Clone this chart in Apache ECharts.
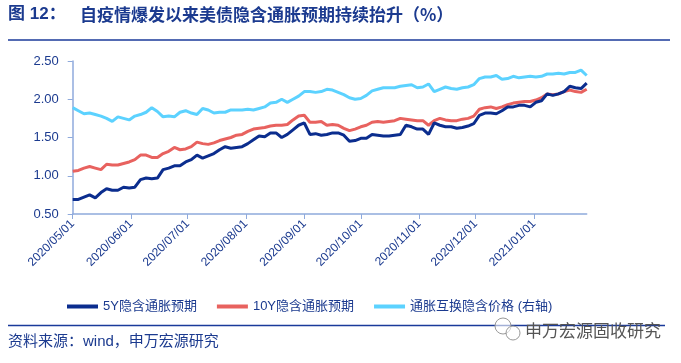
<!DOCTYPE html>
<html>
<head>
<meta charset="utf-8">
<script src="https://cdn.jsdelivr.net/npm/echarts@6/dist/echarts.min.js"></script>
<style>
html,body{margin:0;padding:0;background:#fff;}
#chart{width:681px;height:363px;}
</style>
</head>
<body>
<div id="chart"></div>
<script>
// Dates (every 3 calendar days)
var dates = [
 '2020-05-01','2020-05-04','2020-05-07','2020-05-10','2020-05-13','2020-05-16','2020-05-19','2020-05-22','2020-05-25','2020-05-28','2020-05-31',
 '2020-06-03','2020-06-06','2020-06-09','2020-06-12','2020-06-15','2020-06-18','2020-06-21','2020-06-24','2020-06-27','2020-06-30',
 '2020-07-03','2020-07-06','2020-07-09','2020-07-12','2020-07-15','2020-07-18','2020-07-21','2020-07-24','2020-07-27','2020-07-30',
 '2020-08-02','2020-08-05','2020-08-08','2020-08-11','2020-08-14','2020-08-17','2020-08-20','2020-08-23','2020-08-26','2020-08-29',
 '2020-09-01','2020-09-04','2020-09-07','2020-09-10','2020-09-13','2020-09-16','2020-09-19','2020-09-22','2020-09-25','2020-09-28',
 '2020-10-01','2020-10-04','2020-10-07','2020-10-10','2020-10-13','2020-10-16','2020-10-19','2020-10-22','2020-10-25','2020-10-28','2020-10-31',
 '2020-11-03','2020-11-06','2020-11-09','2020-11-12','2020-11-15','2020-11-18','2020-11-21','2020-11-24','2020-11-27','2020-11-30',
 '2020-12-03','2020-12-06','2020-12-09','2020-12-12','2020-12-15','2020-12-18','2020-12-21','2020-12-24','2020-12-27','2020-12-30',
 '2021-01-02','2021-01-05','2021-01-08','2021-01-11','2021-01-14','2021-01-17','2021-01-20','2021-01-23','2021-01-26','2021-01-29'
];
var be5y = [
 0.69,0.69,0.72,0.75,0.71,0.78,0.83,0.81,0.81,0.85,0.84,
 0.85,0.95,0.97,0.96,0.97,1.08,1.10,1.13,1.13,1.18,
 1.21,1.27,1.23,1.26,1.29,1.34,1.38,1.36,1.37,1.38,
 1.42,1.47,1.52,1.51,1.56,1.56,1.50,1.54,1.60,1.66,
 1.69,1.54,1.55,1.53,1.54,1.56,1.56,1.53,1.45,1.46,
 1.49,1.49,1.54,1.53,1.52,1.52,1.53,1.54,1.66,1.64,1.61,
 1.61,1.54,1.69,1.66,1.64,1.64,1.62,1.63,1.65,1.68,
 1.79,1.82,1.82,1.81,1.85,1.90,1.90,1.92,1.92,1.90,
 1.96,1.98,2.07,2.05,2.07,2.10,2.17,2.15,2.14,2.21
];
var be10y = [
 1.06,1.07,1.10,1.12,1.10,1.08,1.15,1.14,1.14,1.16,1.18,
 1.21,1.27,1.27,1.24,1.24,1.29,1.32,1.37,1.34,1.35,
 1.38,1.44,1.42,1.41,1.43,1.46,1.48,1.50,1.53,1.54,
 1.58,1.61,1.62,1.63,1.65,1.66,1.66,1.67,1.73,1.78,
 1.79,1.70,1.70,1.71,1.66,1.67,1.66,1.62,1.59,1.61,
 1.64,1.66,1.70,1.71,1.70,1.71,1.72,1.75,1.74,1.73,1.72,
 1.72,1.66,1.72,1.75,1.73,1.72,1.72,1.74,1.75,1.78,
 1.87,1.89,1.90,1.88,1.90,1.93,1.95,1.96,1.97,1.97,
 1.99,2.02,2.07,2.06,2.07,2.10,2.12,2.10,2.09,2.13
];
var swap = [
 1.89,1.85,1.81,1.82,1.80,1.78,1.75,1.71,1.77,1.75,1.73,
 1.78,1.80,1.83,1.89,1.84,1.77,1.78,1.77,1.83,1.85,
 1.82,1.80,1.88,1.86,1.82,1.83,1.83,1.86,1.86,1.86,
 1.87,1.86,1.88,1.90,1.95,1.96,2.00,1.96,2.00,2.04,
 2.10,2.10,2.09,2.10,2.13,2.12,2.09,2.06,2.02,2.00,
 2.01,2.05,2.11,2.13,2.15,2.15,2.15,2.17,2.18,2.19,2.15,
 2.16,2.20,2.10,2.13,2.16,2.14,2.13,2.15,2.16,2.19,
 2.27,2.29,2.29,2.31,2.26,2.27,2.30,2.28,2.29,2.30,
 2.29,2.30,2.33,2.33,2.34,2.33,2.35,2.35,2.38,2.31
];
var seriesNames = ['5Y隐含通胀预期','10Y隐含通胀预期','通胀互换隐含价格 (右轴)'];
var seriesColors = ['#0B2D8E','#E8625F','#5CD2FF'];
var yTicks = [0.5, 2.5, 0.5]; // min, max, interval

function pair(vals){ return dates.map(function(d,i){ return [d, vals[i]]; }); }

var navy = '#1B3A8F';
var axisColor = '#8FAADC';
var chart = echarts.init(document.getElementById('chart'), null, {renderer:'canvas'});
function fmtDate(v){
  var d = new Date(v);
  var m = d.getMonth()+1, day = d.getDate();
  return d.getFullYear()+'/'+(m<10?'0':'')+m+'/'+(day<10?'0':'')+day;
}
var option = {
  animation:false,
  backgroundColor:'#fff',
  grid:{left:72.7, right:94.3, top:61, bottom:149},
  legend:{
    left:62, top:295, itemWidth:31, itemHeight:4, itemGap:20, icon:'rect',
    textStyle:{color:navy, fontSize:13, fontFamily:'Liberation Sans, Noto Sans CJK SC'},
    data:seriesNames
  },
  xAxis:{
    type:'time', min:dates[0], max:dates[dates.length-1], splitNumber:9,
    axisLine:{lineStyle:{color:axisColor, width:1.5}},
    axisTick:{show:true, length:5, lineStyle:{color:axisColor}},
    splitLine:{show:false},
    axisLabel:{rotate:45, margin:8, color:navy, fontSize:12, fontFamily:'Liberation Sans',
      formatter:function(v){ return fmtDate(v); }, showMaxLabel:false}
  },
  yAxis:[{
    type:'value', min:yTicks[0], max:yTicks[1], interval:yTicks[2],
    axisLine:{show:true, lineStyle:{color:axisColor, width:1.5}},
    axisTick:{show:true, length:5, lineStyle:{color:axisColor}},
    splitLine:{show:false},
    axisLabel:{margin:14, color:navy, fontSize:13, fontFamily:'Liberation Sans',
      formatter:function(v){ return v.toFixed(2); }}
  },{
    type:'value', min:yTicks[0], max:yTicks[1], interval:yTicks[2], show:false
  }],
  series:[
    {name:seriesNames[2], type:'line', yAxisIndex:1, data:pair(swap), showSymbol:false, symbol:'none',
     lineStyle:{color:seriesColors[2], width:3}, itemStyle:{color:seriesColors[2]}},
    {name:seriesNames[1], type:'line', data:pair(be10y), showSymbol:false, symbol:'none',
     lineStyle:{color:seriesColors[1], width:3}, itemStyle:{color:seriesColors[1]}},
    {name:seriesNames[0], type:'line', data:pair(be5y), showSymbol:false, symbol:'none',
     lineStyle:{color:seriesColors[0], width:3}, itemStyle:{color:seriesColors[0]}}
  ],
  graphic:[
    {type:'text', left:8, top:6, style:{text:'图 12：', fill:navy, font:'bold 17px "Liberation Sans", "Noto Sans CJK SC"'}},
    {type:'text', left:80, top:6, style:{text:'自疫情爆发以来美债隐含通胀预期持续抬升（%）', fill:navy, font:'bold 17px "Noto Sans CJK SC"'}},
    {type:'line', shape:{x1:8, y1:40, x2:670, y2:40}, style:{stroke:'#1A3A9A', lineWidth:1.5}},
    {type:'line', shape:{x1:8, y1:325.5, x2:665, y2:325.5}, style:{stroke:'#1A3A9A', lineWidth:1.5}},
    {type:'text', left:8, top:334, style:{text:'资料来源：wind，申万宏源研究', fill:navy, font:'15px "Liberation Sans", "Noto Sans CJK SC"'}},
    {type:'circle', shape:{cx:503, cy:326, r:8}, style:{fill:'rgba(255,255,255,0.6)', stroke:'#999', lineWidth:1}},
    {type:'circle', shape:{cx:513, cy:333, r:7}, style:{fill:'rgba(255,255,255,0.6)', stroke:'#999', lineWidth:1}},
    {type:'text', left:525, top:322, style:{text:'申万宏源固收研究', fill:'#555', font:'17px "Noto Sans CJK SC"'}}
  ]
};
chart.setOption(option);
</script>
</body>
</html>
